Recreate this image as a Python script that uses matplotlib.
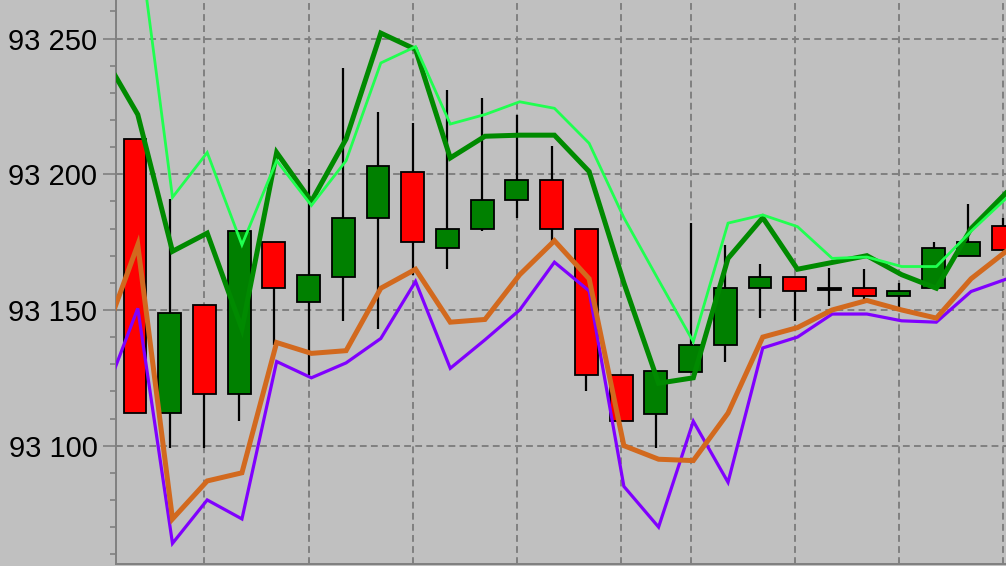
import matplotlib
matplotlib.use('Agg')
import matplotlib.pyplot as plt
import numpy as np
from matplotlib.ticker import FixedLocator, MultipleLocator

# ---- data (candles, index 0..25) ----
opens  = [93213, 93112, 93152, 93119, 93175, 93153, 93162, 93184, 93201, 93173,
          93180, 93190.5, 93198, 93180, 93126, 93111.5, 93127, 93137, 93158, 93162,
          93157.4, 93158, 93155, 93158, 93170, 93181]
highs  = [93213, 93191, 93152, 93179, 93175, 93202, 93239, 93223, 93219, 93231,
          93228, 93222, 93210.5, 93180, 93126, 93128, 93182, 93174, 93167, 93162,
          93165.5, 93165, 93160, 93175, 93189, 93184]
lows   = [93112, 93099, 93099, 93109, 93137, 93126, 93146, 93143, 93163, 93165,
          93179, 93184, 93175, 93120, 93109, 93099, 93127, 93131, 93147, 93146,
          93151.5, 93153, 93151, 93158, 93170, 93172]
closes = [93112, 93149, 93119, 93179, 93158, 93163, 93184, 93203, 93175, 93180,
          93190.5, 93198, 93180, 93126, 93109, 93127.5, 93137, 93158, 93162, 93157,
          93157.4, 93155, 93157, 93173, 93175, 93172]

# ---- indicator lines (index -1..25) ----
light_green = [93305, 93290, 93191.5, 93208, 93174, 93205, 93188.5, 93205, 93241, 93247,
               93218.5, 93222, 93226.7, 93224.3, 93211.4, 93184, 93161, 93138.3, 93182,
               93185, 93180.7, 93169, 93169.5, 93166, 93166, 93179, 93191]
dark_green = [93244, 93222, 93171.6, 93178.3, 93143, 93208, 93190, 93213, 93252, 93246,
              93206, 93214, 93214.4, 93214.4, 93201, 93160, 93123, 93125, 93169,
              93184, 93165, 93167.5, 93170, 93163, 93158, 93180, 93193]
orange = [93139, 93174, 93073, 93087, 93090, 93138, 93134, 93135, 93158, 93165,
          93145.5, 93146.5, 93163, 93175.5, 93161.5, 93100, 93095, 93094.5, 93112,
          93140, 93143.5, 93150, 93153.5, 93150, 93147, 93161.5, 93171.5]
purple = [93117, 93150.6, 93064, 93080, 93073, 93131, 93125, 93130.5, 93139.5, 93160.5,
          93128.5, 93139, 93150, 93167.6, 93157, 93085, 93070, 93109, 93086.5,
          93136, 93140, 93148.5, 93148.5, 93146, 93145.5, 93156.8, 93161.3]

ytick_values = [93100, 93150, 93200, 93250]
ytick_labels = ['93 100', '93 150', '93 200', '93 250']
vgrid_idx = [2, 5, 8, 11, 14, 16, 19, 22, 25]

BG = '#c0c0c0'
GRID = '#808080'

fig = plt.figure(figsize=(10.06, 5.66), dpi=100, facecolor=BG)
ax = fig.add_axes([116 / 1006, 2 / 566, 890 / 1006, 564 / 566])
ax.set_facecolor(BG)

ax.set_xlim(-0.547, 25.086)
ax.set_ylim(93056.4, 93264.2)

# grid
dash = (0, (3.5, 2.2))
for v in ytick_values:
    ax.axhline(v, color=GRID, lw=1.4, ls=dash, zorder=0.5)
for i in vgrid_idx:
    ax.axvline(i, color=GRID, lw=1.4, ls=dash, zorder=0.5)

# candles
x = np.arange(len(opens))
o = np.array(opens); c = np.array(closes); h = np.array(highs); l = np.array(lows)
colors = np.where(c > o, '#008000', np.where(c < o, '#ff0000', '#000000'))
ax.vlines(x, l, h, color='black', lw=1.6, zorder=2)
bottoms = np.minimum(o, c)
heights = np.maximum(np.abs(c - o), 0.6)
ax.bar(x, heights, bottom=bottoms, width=0.66, color=colors,
       edgecolor='black', linewidth=1.3, zorder=3)

# indicator lines
lx = np.arange(-1, len(opens)) + 0.08
ax.plot(lx, purple, color='#8000ff', lw=2.3, zorder=4, solid_joinstyle='miter')
ax.plot(lx, orange, color='#d2691e', lw=3.6, zorder=5, solid_joinstyle='miter')
ax.plot(lx, dark_green, color='#008a00', lw=3.6, zorder=6, solid_joinstyle='miter')
ax.plot(lx, light_green, color='#20ff50', lw=2.0, zorder=7, solid_joinstyle='miter')

# axes styling
for s in ['top', 'right']:
    ax.spines[s].set_visible(False)
for s in ['left', 'bottom']:
    ax.spines[s].set_color(GRID)
    ax.spines[s].set_linewidth(1.4)

ax.yaxis.set_major_locator(FixedLocator(ytick_values))
ax.set_yticklabels(ytick_labels)
ax.yaxis.set_minor_locator(MultipleLocator(10))
ax.tick_params(axis='y', which='major', length=9.4, width=1.2, color=GRID,
               pad=4, labelsize=21, labelcolor='black')
ax.tick_params(axis='y', which='minor', length=4.3, width=1.2, color=GRID)
for t in ax.get_yticklabels():
    t.set_fontfamily(['Liberation Sans', 'DejaVu Sans'])
ax.set_xticks([])

fig.savefig('out.png', dpi=100, facecolor=BG)
